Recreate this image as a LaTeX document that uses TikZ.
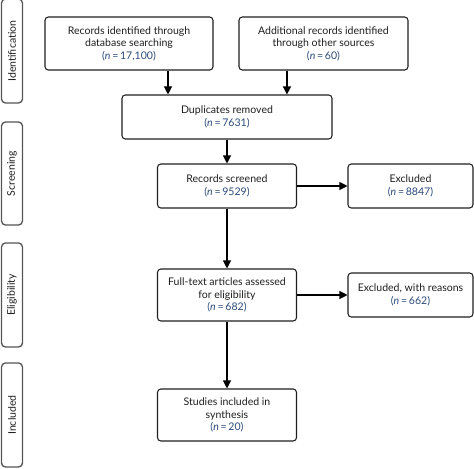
\documentclass[tikz,border=0pt]{standalone}
\usepackage{fontspec}
\setmainfont{Lato}
\usetikzlibrary{arrows.meta}
\definecolor{ntext}{HTML}{2B4A7A}
\definecolor{btext}{HTML}{1E1E1E}
\definecolor{pborder}{HTML}{555555}
\newcommand{\nval}[1]{{\color{ntext}(\textit{n}\,=\,#1)}}
\begin{document}
\begin{tikzpicture}[x=0.75pt,y=0.75pt,
  box/.style={draw=btext,line width=0.8pt,rounded corners=2.5pt,align=center,inner sep=1pt,
    text=btext,font=\fontsize{7.9}{9.4}\selectfont},
  panel/.style={draw=pborder,line width=1pt,rounded corners=3pt},
  plabel/.style={rotate=90,text=btext,font=\fontsize{7.9}{9.4}\selectfont},
  arr/.style={draw=black,line width=0.8pt,-{Triangle[length=6pt,width=6pt]}}]
\useasboundingbox (0,0) rectangle (474,-468);
% side panels
\draw[panel] (1.5,1) rectangle (22.5,-103) node[plabel,midway] (p1) {Identification};
\draw[panel] (1.5,-122) rectangle (22.5,-225) node[plabel,midway] (p2) {Screening};
\draw[panel] (1.5,-243) rectangle (22.5,-347) node[plabel,midway] (p3) {Eligibility};
\draw[panel] (1.5,-363) rectangle (22.5,-467) node[plabel,midway] (p4) {Included};
% boxes
\node[box] (A) at (129,-43.5) [minimum width=126pt,minimum height=39.75pt] {Records identified through\\database searching\\\nval{17,100}};
\node[box] (B) at (323.5,-43.5) [minimum width=126.75pt,minimum height=39.75pt] {Additional records identified\\through other sources\\\nval{60}};
\node[box] (D) at (227,-117) [minimum width=157.5pt,minimum height=33pt] {Duplicates removed\\\nval{7631}};
\node[box] (S) at (227,-186) [minimum width=104.25pt,minimum height=33pt] {Records screened\\\nval{9529}};
\node[box] (E) at (410.5,-186) [minimum width=93.75pt,minimum height=33pt] {Excluded\\\nval{8847}};
\node[box] (F) at (227,-295) [minimum width=104.25pt,minimum height=39pt] {Full-text articles assessed\\for eligibility\\\nval{682}};
\node[box] (R) at (410.5,-295) [minimum width=93.75pt,minimum height=33pt] {Excluded, with reasons\\\nval{662}};
\node[box] (T) at (227,-415) [minimum width=104.25pt,minimum height=39pt] {Studies included in\\synthesis\\\nval{20}};
% connectors
\draw[arr] ([xshift=29.25pt]A.south) -- ([xshift=29.25pt]A.south |- D.north);
\draw[arr] ([xshift=-27.4pt]B.south) -- ([xshift=-27.4pt]B.south |- D.north);
\draw[arr] (D.south) -- (S.north);
\draw[arr] (S.east) -- (E.west);
\draw[arr] (S.south) -- (F.north);
\draw[arr] (F.east) -- (F.east -| R.west);
\draw[arr] (F.south) -- (T.north);
\end{tikzpicture}
\end{document}
